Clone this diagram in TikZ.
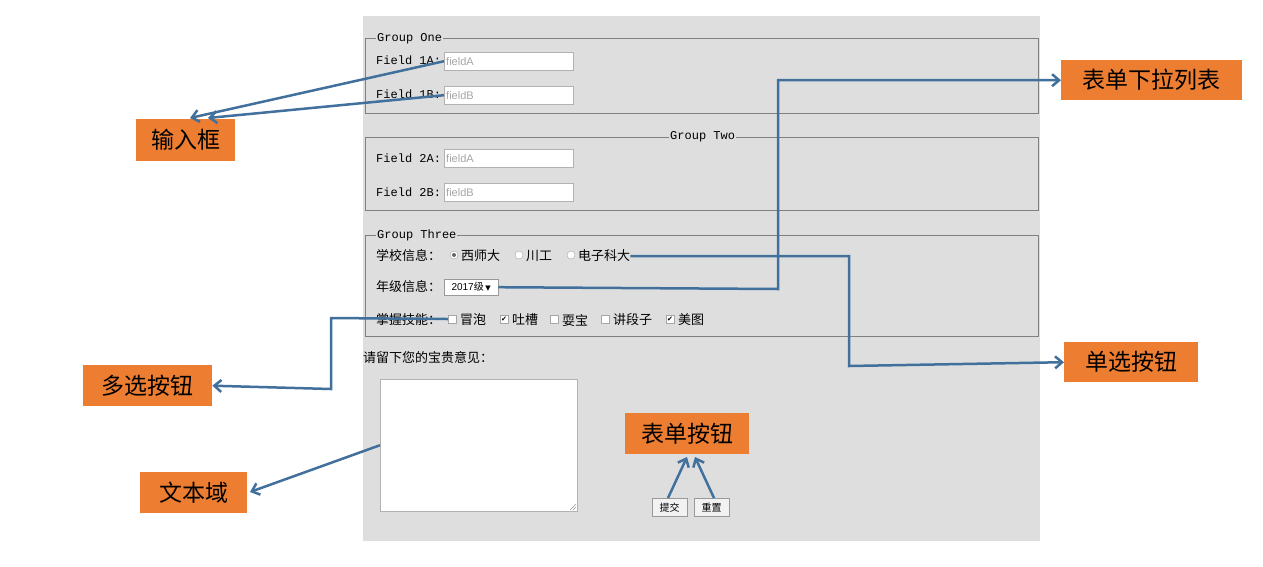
\documentclass[tikz,border=0pt]{standalone}
\usepackage{fontspec}
\setmainfont{Liberation Serif}
\newfontfamily\cjk{Noto Sans CJK SC}
\newfontfamily\mono{Liberation Mono}
\newfontfamily\sans{Liberation Sans}
\newfontfamily\dv{DejaVu Sans}
\usetikzlibrary{arrows.meta}
\definecolor{bg}{HTML}{DEDEDE}
\definecolor{org}{HTML}{ED7D31}
\definecolor{arr}{HTML}{41709C}
\begin{document}
\begin{tikzpicture}[x=1pt,y=-1pt,
  lab/.style={fill=org,inner sep=0pt,font=\cjk\fontsize{23}{23}\selectfont,anchor=north west},
  fs/.style={draw=black!50,line width=1pt},
  leg/.style={fill=bg,inner sep=1pt,font=\mono\fontsize{12}{12}\selectfont,anchor=west},
  ft/.style={font=\mono\fontsize{12}{12}\selectfont,anchor=west,inner sep=0pt},
  ct/.style={font=\cjk\fontsize{13}{13}\selectfont,anchor=west,inner sep=0pt},
  inp/.style={draw=black!30,fill=white,anchor=north west,minimum width=129pt,minimum height=18pt,inner sep=2pt,font=\sans\fontsize{11}{11}\selectfont,text=black!35,align=left,text width=125pt},
  rad/.style={circle,draw=black!35,fill=white,minimum size=8pt,inner sep=0pt},
  chk/.style={draw=black!35,fill=white,minimum size=8pt,inner sep=0pt,font=\dv\fontsize{7}{7}\selectfont},
  btn/.style={draw=black!40,fill=black!5,font=\cjk\fontsize{10}{10}\selectfont,inner sep=0pt,minimum width=35pt,minimum height=18pt,anchor=north west},
  ar/.style={draw=arr,line width=2.5pt,-{Straight Barb[length=7pt,width=12pt]}}]
\useasboundingbox (0,0) rectangle (1263,566);
\fill[white] (0,0) rectangle (1263,566);
\fill[bg] (363,16) rectangle (1040,541);
% fieldsets
\draw[fs] (365,38) rectangle (1038,113);
\node[leg] (g1) at (376,39) {Group One};
\draw[fs] (365,137) rectangle (1038,210);
\node[leg] (g2) at (669,137) {Group Two};
\draw[fs] (365,235) rectangle (1038,336);
\node[leg] (g3) at (376,235) {Group Three};
% fields
\node[ft] (f1a) at (376,60) {Field 1A:};
\node[inp] (i1a) at (444,52) {fieldA};
\node[ft] (f1b) at (376,94) {Field 1B:};
\node[inp] (i1b) at (444,86) {fieldB};
\node[ft] (f2a) at (376,158) {Field 2A:};
\node[inp] (i2a) at (444,149) {fieldA};
\node[ft] (f2b) at (376,192) {Field 2B:};
\node[inp] (i2b) at (444,183) {fieldB};
% radios
\node[ct] (sch) at (376,256) {学校信息：};
\node[rad] (r1) at (454,255) {}; \fill[black!60] (r1) circle (2pt);
\node[ct] (r1t) at (461,256) {西师大};
\node[rad] (r2) at (519,255) {};
\node[ct] (r2t) at (526,256) {川工};
\node[rad] (r3) at (571,255) {};
\node[ct] (r3t) at (578,256) {电子科大};
% select
\node[ct] (gr) at (376,287) {年级信息：};
\node[draw=black!40,fill=white,anchor=north west,minimum width=54pt,minimum height=16pt,inner sep=2pt,font=\sans\fontsize{10}{10}\selectfont] (sel) at (444,279) {2017{\cjk 级}\,{\dv\fontsize{7}{7}\selectfont ▼}};
% checkboxes
\node[ct] (sk) at (376,320) {掌握技能：};
\node[chk] (c1) at (452,319) {}; \node[ct] (c1t) at (460,320) {冒泡};
\node[chk] (c2) at (504,319) {✔}; \node[ct] (c2t) at (512,320) {吐槽};
\node[chk] (c3) at (554,319) {}; \node[ct] (c3t) at (562,320) {耍宝};
\node[chk] (c4) at (605,319) {}; \node[ct] (c4t) at (613,320) {讲段子};
\node[chk] (c5) at (670,319) {✔}; \node[ct] (c5t) at (678,320) {美图};
% textarea
\node[ct] (adv) at (363,358) {请留下您的宝贵意见：};
\node[draw=black!30,fill=white,anchor=north west,minimum width=197pt,minimum height=132pt,inner sep=0pt] (ta) at (380,379) {};
\draw[black!40] (570,510)--(576,504) (573,510)--(576,507);
% buttons
\node[btn] (b1) at (652,498) {提交};
\node[btn] (b2) at (694,498) {重置};
% labels
\node[lab,minimum width=99pt,minimum height=42pt] (l1) at (136,119) {输入框};
\node[lab,minimum width=181pt,minimum height=40pt] (l2) at (1061,60) {表单下拉列表};
\node[lab,minimum width=134pt,minimum height=40pt] (l3) at (1064,342) {单选按钮};
\node[lab,minimum width=129pt,minimum height=41pt] (l4) at (83,365) {多选按钮};
\node[lab,minimum width=107pt,minimum height=41pt] (l5) at (140,472) {文本域};
\node[lab,minimum width=124pt,minimum height=41pt] (l6) at (625,413) {表单按钮};
% arrows
\coordinate (t1) at (190,118); \coordinate (t2) at (208,118);
\draw[ar] (i1a.west) -- (t1);
\draw[ar] (i1b.west) -- (t2);
\draw[ar] (sel.east) -- (778,289) -- (778,80) -- (l2.west);
\draw[ar] (r3t.east) -- (849,256) -- (849,366) -- (l3.west);
\draw[ar] (c1.west) -- (331,318) -- (331,389) -- (l4.east);
\draw[ar] (ta.west) -- (250,492);
\coordinate (t6a) at (687,457); \coordinate (t6b) at (695,457);
\draw[ar] (668,498) -- (t6a);
\draw[ar] (714,498) -- (t6b);
\end{tikzpicture}
\end{document}
